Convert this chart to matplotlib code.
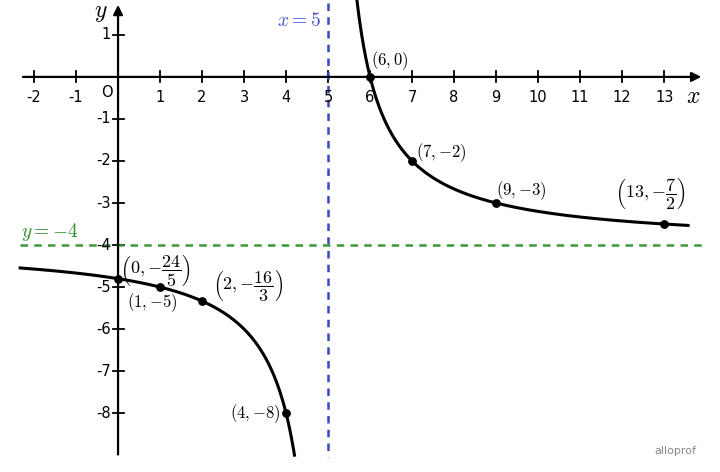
import numpy as np
import matplotlib.pyplot as plt

plt.rcParams['mathtext.fontset'] = 'cm'

# f(x) = a / (x - h) + k
a, h, k = 4, 5, -4

# labelled points on the curve
pt_x = [0, 1, 2, 4, 6, 7, 9, 13]
pt_y = [-24 / 5, -5, -16 / 3, -8, 0, -2, -3, -7 / 2]
pt_labels = [r'$\left(0,{-}\dfrac{24}{5}\right)$', r'$(1,{-}5)$', r'$\left(2,{-}\dfrac{16}{3}\right)$',
             r'$(4,{-}8)$', r'$(6,0)$', r'$(7,{-}2)$', r'$(9,{-}3)$', r'$\left(13,{-}\dfrac{7}{2}\right)$']
pt_offsets = [(1.5, 6.5), (-24, -11), (8, 11.5), (-4, 0), (1, 12), (3, 6), (0, 9), (-10, 22)]
pt_align = [('left', 'center'), ('left', 'center'), ('left', 'center'), ('right', 'center'),
            ('left', 'center'), ('left', 'center'), ('left', 'center'), ('center', 'center')]
pt_size = [13, 12, 13, 12, 12, 12, 12, 13]

x_ticks = [-2, -1, 1, 2, 3, 4, 5, 6, 7, 8, 9, 10, 11, 12, 13]
y_ticks = [1, -1, -2, -3, -4, -5, -6, -7, -8]

fig = plt.figure(figsize=(7.2, 4.72), dpi=100)
ax = fig.add_axes([0, 0, 1, 1])
ax.set_xlim(-2.81, 14.33)
ax.set_ylim(-9.40, 1.83)
ax.axis('off')

# axes with arrows
ax.annotate('', xy=(13.95, 0), xytext=(-2.33, 0),
            arrowprops=dict(arrowstyle='-|>', color='black', lw=1.6, mutation_scale=14))
ax.annotate('', xy=(0, 1.78), xytext=(0, -9.05),
            arrowprops=dict(arrowstyle='-|>', color='black', lw=1.6, mutation_scale=14))

for t in x_ticks:
    ax.plot([t, t], [-0.13, 0.13], color='black', lw=1.3)
    ax.text(t, -0.32, str(t), ha='center', va='top', fontsize=10.5, family='DejaVu Sans')
for t in y_ticks:
    ax.plot([-0.13, 0.13], [t, t], color='black', lw=1.3)
    ax.text(-0.17, t, str(t), ha='right', va='center', fontsize=10.5, family='DejaVu Sans')
ax.text(-0.27, -0.2, 'O', ha='center', va='top', fontsize=10.5, family='DejaVu Sans')

ax.text(13.7, -0.45, r'$x$', ha='center', va='center', fontsize=17)
ax.text(-0.42, 1.55, r'$y$', ha='center', va='center', fontsize=17)

# asymptotes
ax.plot([h, h], [1.75, -9.05], color='#3a47c4', lw=1.8, ls=(0, (3, 2.5)))
ax.plot([-2.33, 13.95], [k, k], color='#3a9a3a', lw=1.8, ls=(0, (3, 2.5)))
ax.text(4.82, 1.35, r'$x=5$', color='#4a56c8', ha='right', va='center', fontsize=14)
ax.text(-2.3, -3.7, r'$y=-4$', color='#2e8b2e', ha='left', va='center', fontsize=14)

# curve
xl = np.linspace(-2.33, h + a / (-5.0), 300)
xr = np.linspace(h + a / 5.83, 13.57, 300)
ax.plot(xl, a / (xl - h) + k, color='black', lw=2.2)
ax.plot(xr, a / (xr - h) + k, color='black', lw=2.2)

ax.scatter(pt_x, pt_y, color='black', s=28, zorder=5)
for x, y, lab, off, al, fs in zip(pt_x, pt_y, pt_labels, pt_offsets, pt_align, pt_size):
    ax.annotate(lab, (x, y), xytext=off, textcoords='offset points',
                ha=al[0], va=al[1], fontsize=fs)

fig.text(0.938, 0.045, 'alloprof', color='#888888', fontsize=8, ha='center', va='center')

fig.savefig('out.png', dpi=100)
